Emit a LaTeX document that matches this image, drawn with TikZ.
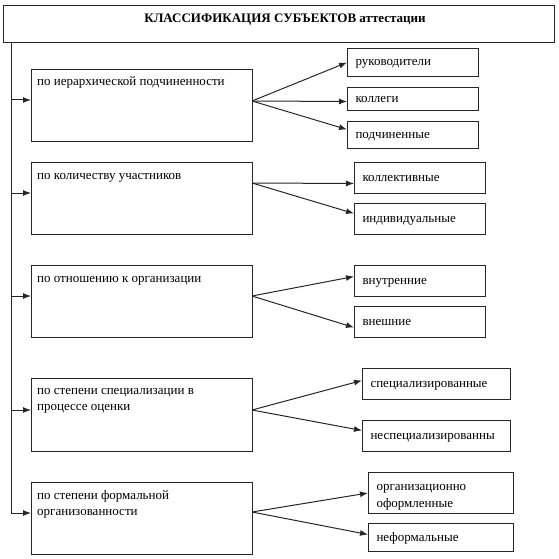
\documentclass[tikz,border=0pt]{standalone}
\usepackage{fontspec}
\setmainfont{Liberation Serif}
\usetikzlibrary{arrows.meta,calc}
\definecolor{ln}{HTML}{262626}
\tikzset{
  box/.style={draw=ln, line width=1pt, inner sep=0pt, anchor=north west},
  lbl/.style={inner sep=0pt, anchor=base west, align=left, font=\fontsize{13}{16.5}\selectfont},
  rbox/.style={draw=ln, line width=1pt, inner sep=0pt, anchor=north west, align=left,
               font=\fontsize{13}{16.5}\selectfont},
  oneline/.style={text height=9pt, text depth=2pt},
  twoline/.style={text height=9pt, text depth=14pt},
  arr/.style={draw=ln, line width=1pt, -{Latex[length=8pt,width=6pt]}},
  ln/.style={draw=ln, line width=1pt}
}
\newcommand{\rb}[7][oneline]{% opts, name, x1, y1, x2, y2, text
  \node[rbox, minimum width={#5-#3}, minimum height={#6-#4}, text width={#5-#3}, #1] (#2) at (#3,#4) {\hspace*{8pt}#7};}
\begin{document}
\begin{tikzpicture}[x=1pt,y=-1pt]
\useasboundingbox (0,0) rectangle (559,559);
% title
\node[box, minimum width=551, minimum height=37] (title) at (3,5) {};
\node[inner sep=0pt, anchor=base, font=\fontsize{13}{16}\selectfont\bfseries] (tt) at (285,22.5) {КЛАССИФИКАЦИЯ СУБЪЕКТОВ аттестации};
% spine
\coordinate (s0) at (11,42);
\coordinate (s5) at (11,513);
\draw[ln] (s0) -- (s5);
% left boxes
\node[box, minimum width=221, minimum height=72] (b1) at (31,69) {};
\node[box, minimum width=221, minimum height=72] (b2) at (31,162) {};
\node[box, minimum width=221, minimum height=72] (b3) at (31,265) {};
\node[box, minimum width=221, minimum height=73] (b4) at (31,378) {};
\node[box, minimum width=221, minimum height=72] (b5) at (31,482) {};
\node[lbl] (t1) at ($(b1.north west)+(6,17)$) {по иерархической подчиненности};
\node[lbl] (t2) at ($(b2.north west)+(6,17)$) {по количеству участников};
\node[lbl] (t3) at ($(b3.north west)+(6,17)$) {по отношению к организации};
\node[lbl] (t4) at ($(b4.north west)+(6,16+16.5)$) {по степени специализации в\\процессе оценки};
\node[lbl] (t5) at ($(b5.north west)+(6,17+16.5)$) {по степени формальной\\организованности};
% right boxes
\rb{r11}{347}{48}{478}{76}{руководители}
\rb{r12}{347}{87}{478}{110}{коллеги}
\rb{r13}{347}{121}{478}{148}{подчиненные}
\rb{r21}{354}{162}{485}{193}{коллективные}
\rb{r22}{354}{203}{485}{234}{индивидуальные}
\rb{r31}{354}{265}{485}{296}{внутренние}
\rb{r32}{354}{306}{485}{337}{внешние}
\rb{r41}{362}{368}{510}{399}{специализированные}
\rb{r42}{362}{420}{510}{451}{неспециализированны}
\rb[twoline]{r51}{368}{472}{513}{513}{организационно\\\hspace*{8pt}оформленные}
\rb{r52}{368}{523}{513}{551}{неформальные}
% spine to boxes
\coordinate (e1) at (11,100);
\coordinate (e2) at (11,193);
\coordinate (e3) at (11,296);
\coordinate (e4) at (11,410);
\coordinate (e5) at (11,513);
\draw[arr] (e1) -- (e1 -| b1.west);
\draw[arr] (e2) -- (e2 -| b2.west);
\draw[arr] (e3) -- (e3 -| b3.west);
\draw[arr] (e4) -- (e4 -| b4.west);
\draw[arr] (e5) -- (e5 -| b5.west);
% branch origins
\coordinate (o1) at (252,101);
\coordinate (o2) at (252,183);
\coordinate (o3) at (252,296);
\coordinate (o4) at (252,410);
\coordinate (o5) at (252,512);
\draw[arr] (o1) -- (r11.west);
\draw[arr] (o1) -- ([yshift=-2.5pt]r12.west);
\draw[arr] (o1) -- ([yshift=5.5pt]r13.west);
\draw[arr] (o2) -- ([yshift=-5.5pt]r21.west);
\draw[arr] (o2) -- ([yshift=5.5pt]r22.west);
\draw[arr] (o3) -- ([yshift=4.5pt]r31.west);
\draw[arr] (o3) -- ([yshift=-5.5pt]r32.west);
\draw[arr] (o4) -- ([yshift=3.5pt]r41.west);
\draw[arr] (o4) -- ([yshift=5.5pt]r42.west);
\draw[arr] (o5) -- (r51.west);
\draw[arr] (o5) -- ([yshift=3pt]r52.west);
\end{tikzpicture}
\end{document}
